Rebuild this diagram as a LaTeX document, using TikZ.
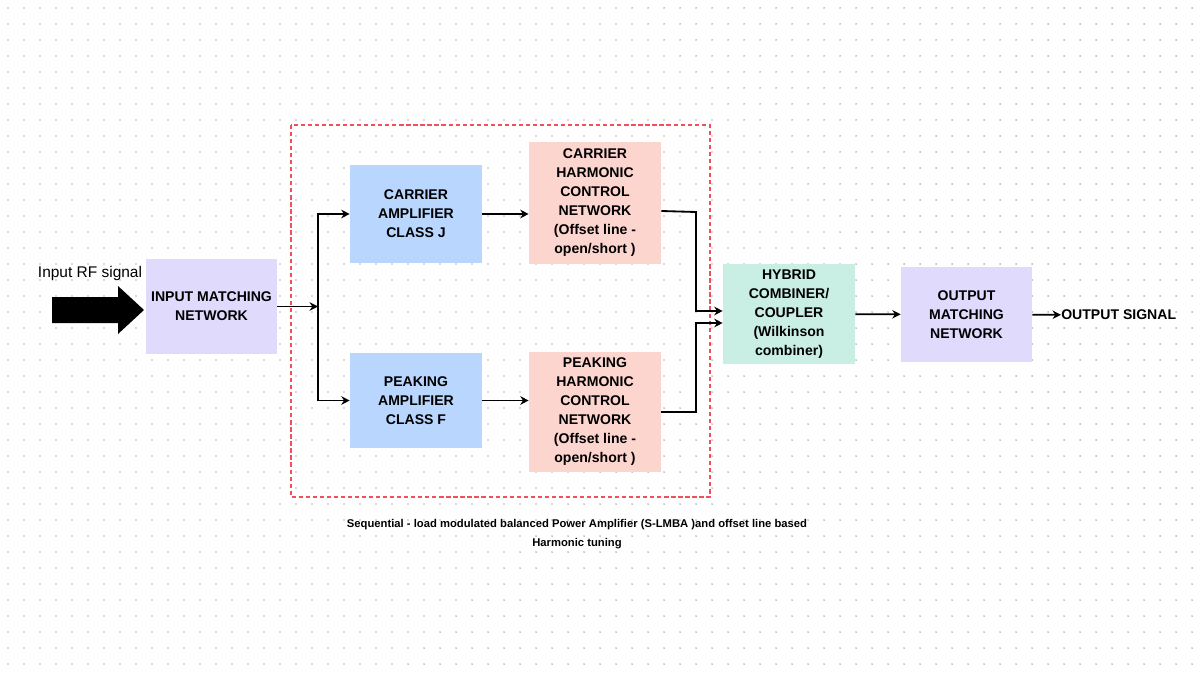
\documentclass[tikz,border=0pt]{standalone}
\usepackage{fontspec}
\setmainfont{Liberation Sans}
\usetikzlibrary{arrows.meta}
\definecolor{lav}{HTML}{E0DBFD}
\definecolor{blu}{HTML}{B9D7FE}
\definecolor{pnk}{HTML}{FDD5CF}
\definecolor{mnt}{HTML}{C9EEE3}
\definecolor{dashred}{HTML}{F0505A}
\begin{document}
\begin{tikzpicture}[x=0.025cm,y=-0.025cm,
    block/.style ={align=center, font=\bfseries\fontsize{10}{13.5}\selectfont, inner sep=0pt},
    link/.style ={line width=1.3pt, -{Stealth[length=6pt,width=6pt]}}]
   \useasboundingbox (0,0) rectangle (1200,675);
   \foreach \i in {0,...,74} \foreach \j in {0,...,41}
     \fill[black!30] (8+16*\i,8+16*\j) circle (0.7pt);

   \node[block, fill=lav, minimum width=131*0.025cm, minimum height=95*0.025cm] (IMN) at (211.5,306.5) {INPUT MATCHING\\NETWORK};
   \node[block, fill=blu, minimum width=132*0.025cm, minimum height=98*0.025cm] (CA) at (416,214) {CARRIER\\AMPLIFIER\\CLASS J};
   \node[block, fill=blu, minimum width=132*0.025cm, minimum height=95*0.025cm] (PA) at (416,400.5) {PEAKING\\AMPLIFIER\\CLASS F};
   \node[block, fill=pnk, minimum width=132*0.025cm, minimum height=122*0.025cm] (CH) at (595,203) {CARRIER\\HARMONIC\\CONTROL\\NETWORK\\(Offset line -\\open/short )};
   \node[block, fill=pnk, minimum width=132*0.025cm, minimum height=120*0.025cm] (PH) at (595,412) {PEAKING\\HARMONIC\\CONTROL\\NETWORK\\(Offset line -\\open/short )};
   \node[block, fill=mnt, minimum width=132*0.025cm, minimum height=100*0.025cm] (HC) at (789,314) {HYBRID\\COMBINER/\\COUPLER\\(Wilkinson\\combiner)};
   \node[block, fill=lav, minimum width=131*0.025cm, minimum height=95*0.025cm] (OMN) at (966.5,314.5) {OUTPUT\\MATCHING\\NETWORK};
   \node[block, anchor=west] (OUT) at (1061,315) {OUTPUT SIGNAL};
   \node[font=\fontsize{11}{13}\selectfont] (IN) at (90,273) {Input RF signal};
   % big input arrow
   \fill (52,297) -- (118,297) -- (118,286) -- (144,310) -- (118,334) -- (118,323) -- (52,323) -- cycle;
   \node[block, font=\bfseries\fontsize{8}{13.5}\selectfont] (CAP) at (577,534)
     {Sequential - load modulated balanced Power Amplifier (S-LMBA )and offset line based\\Harmonic tuning};
   \draw[dashred, line width=0.8pt, dash pattern=on 3pt off 2pt] (291,125) rectangle (710,497);

   \coordinate (S) at (318,306.5);
   \draw[link] (IMN) -- (S);
   \draw[link] (S) |- (CA);
   \draw[link] (S) |- (PA);
   \draw[link] (CA) -- (CA -| CH.west);
   \draw[link] (PA) -- (PA -| PH.west);
   \draw[link] (CH.east |- 0,211) -- (696,212) -- (696,311) -- (HC.west |- 0,311);
   \draw[link] (PH.east |- 0,412) -- (696,412) -- (696,323) -- (HC.west |- 0,323);
   \draw[link] (HC) -- (OMN);
   \draw[link] (OMN) -- (OUT);
\end{tikzpicture}
\end{document}
